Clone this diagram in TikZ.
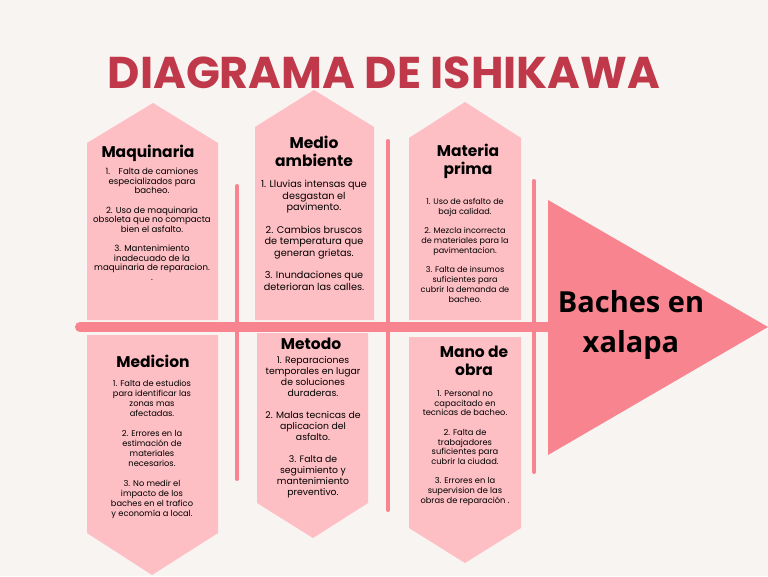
\documentclass[tikz,border=0pt]{standalone}
\usepackage{fontspec}
\usepackage{xcolor}
\setmainfont{Poppins}
\newfontfamily\headfont{Open Sans}

\definecolor{bgcream}{HTML}{F8F4F1}
\definecolor{boxpink}{HTML}{FEBFC4}
\definecolor{bonepink}{HTML}{F7848E}
\definecolor{titlered}{HTML}{C0394A}

\tikzset{
    causebox/.style={fill=boxpink},
    bone/.style={draw=bonepink, line width=4pt, line cap=round},
    heading/.style={font=\bfseries\fontsize{15.5}{18}\selectfont, align=center, inner sep=0pt},
    items/.style 2 args={font=\fontsize{#1}{#2}\selectfont, align=center, inner sep=0pt, anchor=north},
}

\begin{document}
\begin{tikzpicture}[x=1pt, y=-1pt]
        % Background and bounding box
        \fill[bgcream] (0,0) rectangle (768,576);
        \useasboundingbox (0,0) rectangle (768,576);

        % Title
        \node[font=\bfseries\fontsize{44.5}{50}\selectfont, text=titlered] (title) at (384,73) {DIAGRAMA DE ISHIKAWA};

        % Define the spine and bone end points
        \coordinate (tail) at (80,327);
        \coordinate (neck) at (548,327);
        \coordinate (B1top) at (237,186);
        \coordinate (B1bot) at (237,479);
        \coordinate (B2top) at (388,141);
        \coordinate (B2bot) at (388,510);
        \coordinate (B3top) at (534,181);
        \coordinate (B3bot) at (534,472);

        % Draw the spine and the bones
        \draw[bonepink, line width=10pt, line cap=round] (tail) -- (neck);
        \foreach \b in {B1, B2, B3} {
            \draw[bone] (\b top) -- (\b bot);
        }

        % Draw the head
        \fill[bonepink] (548,200) -- (768,327) -- (548,455) -- cycle;
        \node[font=\headfont\bfseries\fontsize{29}{40}\selectfont, align=center] (effect) at (631,325) {Baches en\\xalapa};

        % Upper cause boxes
        \fill[causebox] (87,320) -- (87,143) -- (153,103) -- (218,143) -- (218,320) -- cycle;
        \fill[causebox] (255,320) -- (255,127) -- (314,90) -- (374,127) -- (374,320) -- cycle;
        \fill[causebox] (409,320) -- (409,138) -- (465,102) -- (521,138) -- (521,320) -- cycle;

        % Lower cause boxes
        \fill[causebox] (87,335) -- (218,335) -- (218,533) -- (152,575) -- (87,533) -- cycle;
        \fill[causebox] (257,333) -- (368,333) -- (368,503) -- (313,538) -- (257,503) -- cycle;
        \fill[causebox] (409,337) -- (521,337) -- (521,528) -- (465,563) -- (409,528) -- cycle;

        % Headings
        \node[heading] (maq) at (148,153) {Maquinaria};
        \node[heading] (medio) at (314,151) {Medio\\ambiente};
        \node[heading] (materia) at (468,161) {Materia\\prima};
        \node[heading] (medicion) at (153,361) {Medicion};
        \node[heading] (metodo) at (311,344) {Metodo};
        \node[heading] (mano) at (474,361) {Mano de\\obra};

        % Causes
        \node[items={8.6}{9.5}] (maqtxt) at (152,168) {1.\quad Falta de camiones\\especializados para\\bacheo.\\[10pt]
            2. Uso de maquinaria\\obsoleta que no compacta\\bien el asfalto.\\[10pt]
            3. Mantenimiento\\inadecuado de la\\maquinaria de reparacion.\\.};
        \node[items={9.7}{11.5}] (mediotxt) at (314,180) {1. Lluvias intensas que\\desgastan el\\pavimento.\\[11pt]
            2. Cambios bruscos\\de temperatura que\\generan grietas.\\[11pt]
            3. Inundaciones que\\deterioran las calles.};
        \node[items={8.1}{10}] (materiatxt) at (465,198) {1. Uso de asfalto de\\baja calidad.\\[9pt]
            2. Mezcla incorrecta\\de materiales para la\\pavimentacion.\\[9pt]
            3. Falta de insumos\\suficientes para\\cubrir la demanda de\\bacheo.};
        \node[items={8.3}{10}] (mediciontxt) at (152,380) {1. Falta de estudios\\para identificar las\\zonas mas\\afectadas.\\[10pt]
            2. Errores en la\\estimación de\\materiales\\necesarios.\\[10pt]
            3. No medir el\\impacto de los\\baches en el trafico\\y economía a local.};
        \node[items={9.3}{11}] (metodotxt) at (313,356) {1. Reparaciones\\temporales en lugar\\de soluciones\\duraderas.\\[11pt]
            2. Malas tecnicas de\\aplicacion del\\asfalto.\\[11pt]
            3. Falta de\\seguimiento y\\mantenimiento\\preventivo.};
        \node[items={8.3}{9.8}] (manotxt) at (465,390) {1. Personal no\\capacitado en\\tecnicas de bacheo.\\[9.5pt]
            2. Falta de\\trabajadores\\suficientes para\\cubrir la ciudad.\\[9.5pt]
            3. Errores en la\\supervision de las\\obras de reparación .};
\end{tikzpicture}
\end{document}
